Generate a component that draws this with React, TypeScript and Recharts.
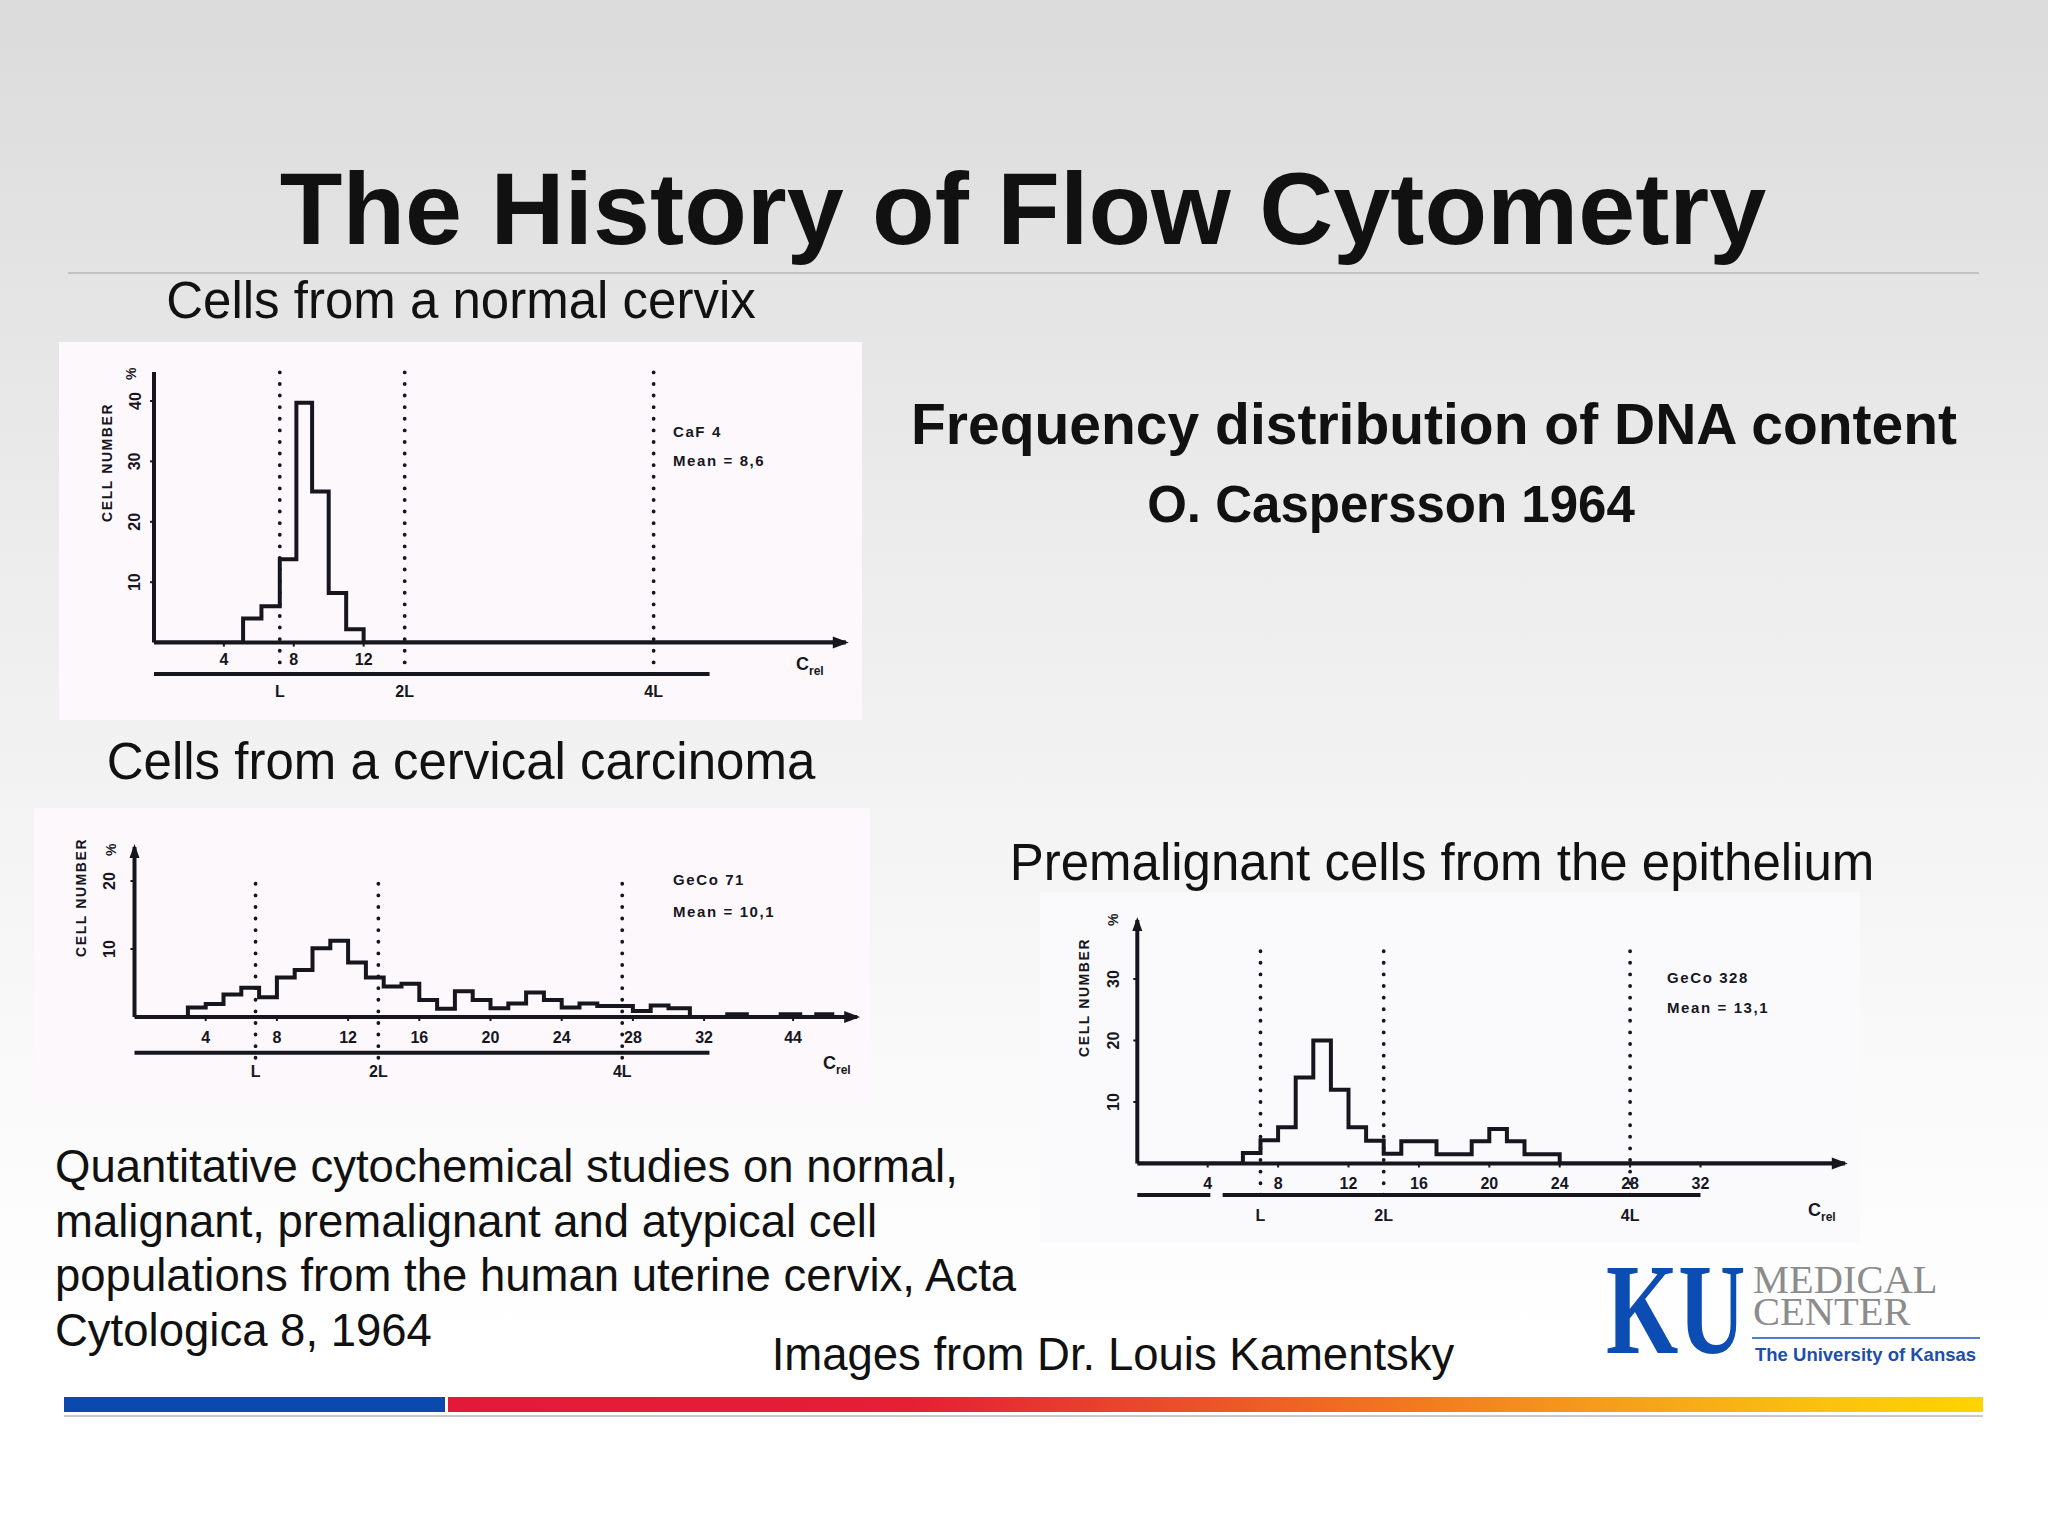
import React from 'react';
import { ComposedChart, Line, XAxis, YAxis, ReferenceLine, ReferenceDot } from 'recharts';

const INK = '#17161f';
const SANS = '"Liberation Sans", Arial, Helvetica, sans-serif';
const SERIF = '"Liberation Serif", "Times New Roman", serif';

// Cells from a normal cervix
const normalBinStart = [5.1, 6.15, 7.2, 8.15, 9.05, 10.0, 11.0, 12.0];
const normalBinHeight = [4, 6, 13.8, 39.7, 25, 8.2, 2.2, 0];
const normalXTicks = [4, 8, 12];
const normalXLabels = ['4', '8', '12'];
const normalYTicks = [10, 20, 30, 40];
const normalPloidy = [7.2, 14.35, 28.6];

// Cells from a cervical carcinoma
const carcBinStart = [
  3, 4, 5, 6, 7, 8, 9, 10, 11, 12, 13, 14, 15, 16, 17, 18, 19, 20, 21, 22, 23, 24, 25, 26, 27, 28, 29, 30,
  31.2, 33.3, 34.4, 36.3, 37.4, 38.3, 39.2,
];
const carcBinHeight = [
  1.4, 1.9, 3.3, 4.3, 2.9, 5.8, 6.9, 10.1, 11.2, 8.0, 5.8, 4.5, 4.9, 2.5, 1.2, 3.8, 2.5, 1.3, 2.0, 3.6, 2.5, 1.4, 2.0,
  1.6, 1.6, 0.9, 1.7, 1.3, 0, 0.4, 0, 0.4, 0, 0.4, 0,
];
const carcXTicks = [4, 8, 12, 16, 20, 24, 28, 32, 37];
const carcXLabels = ['4', '8', '12', '16', '20', '24', '28', '32', '44'];
const carcYTicks = [10, 20];
const carcPloidy = [6.8, 13.7, 27.4];

// Premalignant cells from the epithelium
const preBinStart = [6, 7, 8, 9, 10, 11, 12, 13, 14, 15, 16, 17, 18, 19, 20, 21, 22, 23, 24];
const preBinHeight = [1.7, 3.8, 5.9, 14, 20, 12, 5.9, 3.7, 1.6, 3.6, 3.6, 1.5, 1.5, 3.6, 5.6, 3.6, 1.5, 1.5, 0];
const preXTicks = [4, 8, 12, 16, 20, 24, 28, 32];
const preXLabels = ['4', '8', '12', '16', '20', '24', '28', '32'];
const preYTicks = [10, 20, 30];
const prePloidy = [7.0, 14.0, 28.0];

const ploidyLabels = ['L', '2L', '4L'];

const paragraph = [
  'Quantitative cytochemical studies on normal,',
  'malignant, premalignant and atypical cell',
  'populations from the human uterine cervix, Acta',
  'Cytologica 8, 1964',
];

type Box = { left: number; top: number; width: number; height: number };

type PanelProps = {
  box: Box;
  bg: string;
  originX: number;
  unitX: number;
  baseY: number;
  unitY: number;
  xMax: number;
  yMax: number;
  binStart: number[];
  binHeight: number[];
  xTicks: number[];
  xLabels: string[];
  yTicks: number[];
  ploidy: number[];
  ploidyTop: number;
  ploidyBottom: number;
  ruler: number[][];
  rulerY: number;
  xTickGap: number;
  yTickGap: number;
  labelDy: number;
  yArrow?: boolean;
};

const Y_W = 40;
const X_H = 30;
const STROKE = 4;

function RotTick(props: any) {
  const { x, y, payload } = props;
  return (
    <text
      x={x}
      y={y}
      transform={`rotate(-90 ${x} ${y})`}
      textAnchor="middle"
      dominantBaseline="central"
      fontSize={16}
      fontWeight={700}
      fontFamily={SANS}
      fill={INK}
    >
      {payload.value}
    </text>
  );
}

function HistPanel(p: PanelProps) {
  const plotRight = p.originX + p.xMax * p.unitX;
  const plotTop = p.baseY - p.yMax * p.unitY;
  const margin = {
    left: p.originX - p.box.left - Y_W,
    right: p.box.left + p.box.width - plotRight,
    top: plotTop - p.box.top,
    bottom: p.box.top + p.box.height - p.baseY - X_H,
  };
  const data = [
    { x: 0, y: 0 },
    ...p.binStart.map((x, i) => ({ x, y: p.binHeight[i] })),
    { x: p.xMax, y: 0 },
  ];
  const ax = { stroke: INK, strokeWidth: STROKE };

  return (
    <div style={{ position: 'absolute', left: p.box.left, top: p.box.top, width: p.box.width, height: p.box.height, background: p.bg }}>
      <ComposedChart width={p.box.width} height={p.box.height} data={data} margin={margin}>
        <XAxis
          dataKey="x"
          type="number"
          domain={[0, p.xMax]}
          allowDataOverflow
          ticks={p.xTicks}
          interval={0}
          height={X_H}
          axisLine={ax}
          tickLine={{ stroke: INK, strokeWidth: 2 }}
          tickSize={4}
          tickMargin={p.xTickGap}
          tick={{ fill: INK, fontSize: 16, fontWeight: 700, fontFamily: SANS }}
          tickFormatter={(v: number) => p.xLabels[p.xTicks.indexOf(v)] ?? ''}
        />
        <YAxis
          type="number"
          domain={[0, p.yMax]}
          allowDataOverflow
          ticks={p.yTicks}
          interval={0}
          width={Y_W}
          axisLine={ax}
          tickLine={{ stroke: INK, strokeWidth: 2 }}
          tickSize={4}
          tickMargin={p.yTickGap}
          tick={(t: any) => <RotTick {...t} />}
        />
        {p.ruler.map((r, i) => (
          <ReferenceLine
            key={'r' + i}
            segment={[{ x: r[0], y: p.rulerY }, { x: r[1], y: p.rulerY }]}
            stroke={INK}
            strokeWidth={STROKE}
            ifOverflow="visible"
          />
        ))}
        {p.ploidy.map((v, i) => (
          <ReferenceLine
            key={'p' + i}
            segment={[{ x: v, y: p.ploidyBottom }, { x: v, y: p.ploidyTop }]}
            stroke={INK}
            strokeWidth={3.8}
            strokeDasharray="0.1 11.5"
            strokeLinecap="round"
            ifOverflow="visible"
          />
        ))}
        {p.ploidy.map((v, i) => (
          <ReferenceDot
            key={'pl' + i}
            x={v}
            y={0}
            r={0}
            ifOverflow="visible"
            shape={(s: any) => (
              <text x={s.cx} y={s.cy + p.labelDy} textAnchor="middle" dominantBaseline="central" fontSize={16} fontWeight={700} fontFamily={SANS} fill={INK}>
                {ploidyLabels[i]}
              </text>
            )}
          />
        ))}
        <ReferenceDot
          x={p.xMax}
          y={0}
          r={0}
          ifOverflow="visible"
          shape={(s: any) => <polygon points={`${s.cx + 3},${s.cy} ${s.cx - 13},${s.cy - 6} ${s.cx - 13},${s.cy + 6}`} fill={INK} />}
        />
        {p.yArrow && (
          <ReferenceDot
            x={0}
            y={p.yMax}
            r={0}
            ifOverflow="visible"
            shape={(s: any) => <polygon points={`${s.cx},${s.cy - 3} ${s.cx - 5},${s.cy + 11} ${s.cx + 5},${s.cy + 11}`} fill={INK} />}
          />
        )}
        <Line type="stepAfter" dataKey="y" stroke={INK} strokeWidth={STROKE} dot={false} activeDot={false} isAnimationActive={false} />
      </ComposedChart>
    </div>
  );
}

function Note({ x, y, children, rotate = false, size = 15, anchor = 'start' }: any) {
  return (
    <text
      x={x}
      y={y}
      transform={rotate ? `rotate(-90 ${x} ${y})` : undefined}
      textAnchor={anchor}
      dominantBaseline={rotate ? 'central' : undefined}
      fontSize={size}
      fontWeight={700}
      fontFamily={SANS}
      letterSpacing={1.6}
      fill={INK}
    >
      {children}
    </text>
  );
}

function Crel({ x, y }: { x: number; y: number }) {
  return (
    <text x={x} y={y} fontSize={18} fontWeight={700} fontFamily={SANS} fill={INK}>
      C
      <tspan fontSize={12} dy={5}>
        rel
      </tspan>
    </text>
  );
}

export default function App() {
  return (
    <div
      style={{
        position: 'absolute',
        left: 0,
        top: 0,
        width: 2048,
        height: 1536,
        overflow: 'hidden',
        background: 'linear-gradient(180deg, #dbdbdb 0%, #ececec 35%, #f8f8f8 65%, #ffffff 88%)',
      }}
    >
      <HistPanel
        box={{ left: 59, top: 342, width: 803, height: 378 }}
        bg="#fcf8fb"
        originX={154}
        unitX={17.47}
        baseY={642.6}
        unitY={6.04}
        xMax={39.6}
        yMax={44.8}
        binStart={normalBinStart}
        binHeight={normalBinHeight}
        xTicks={normalXTicks}
        xLabels={normalXLabels}
        yTicks={normalYTicks}
        ploidy={normalPloidy}
        ploidyTop={44.8}
        ploidyBottom={-5.2}
        ruler={[[0, 31.8]]}
        rulerY={-5.2}
        xTickGap={7}
        yTickGap={15}
        labelDy={49}
      />
      <HistPanel
        box={{ left: 34, top: 808, width: 836, height: 296 }}
        bg="#fcf8fb"
        originX={134.5}
        unitX={17.8}
        baseY={1017}
        unitY={6.8}
        xMax={40.6}
        yMax={25}
        binStart={carcBinStart}
        binHeight={carcBinHeight}
        xTicks={carcXTicks}
        xLabels={carcXLabels}
        yTicks={carcYTicks}
        ploidy={carcPloidy}
        ploidyTop={20.3}
        ploidyBottom={-6}
        ruler={[[0, 32.3]]}
        rulerY={-5.25}
        xTickGap={11}
        yTickGap={21}
        labelDy={54}
        yArrow
      />
      <HistPanel
        box={{ left: 1040, top: 892, width: 820, height: 351 }}
        bg="#fafafc"
        originX={1137.3}
        unitX={17.6}
        baseY={1163.5}
        unitY={6.15}
        xMax={40.2}
        yMax={39.6}
        binStart={preBinStart}
        binHeight={preBinHeight}
        xTicks={preXTicks}
        xLabels={preXLabels}
        yTicks={preYTicks}
        ploidy={prePloidy}
        ploidyTop={35.2}
        ploidyBottom={-5.1}
        ruler={[[0, 4.15], [4.85, 32]]}
        rulerY={-5.12}
        xTickGap={10}
        yTickGap={20}
        labelDy={51.5}
        yArrow
      />

      <svg width={2048} height={1536} style={{ position: 'absolute', left: 0, top: 0, pointerEvents: 'none' }}>
        <defs>
          <linearGradient id="band" x1="0" x2="1" y1="0" y2="0">
            <stop offset="0" stopColor="#e3193a" />
            <stop offset="0.3" stopColor="#e41f36" />
            <stop offset="0.45" stopColor="#e9482b" />
            <stop offset="0.58" stopColor="#f06b21" />
            <stop offset="0.75" stopColor="#f59c1d" />
            <stop offset="0.9" stopColor="#fbc20e" />
            <stop offset="1" stopColor="#ffd400" />
          </linearGradient>
        </defs>

        <text x={1023} y={244} textAnchor="middle" fontSize={102.5} fontWeight={700} fontFamily={SANS} fill="#111">
          The History of Flow Cytometry
        </text>
        <line x1={68} x2={1979} y1={273} y2={273} stroke="#c2c2c2" strokeWidth={2} />

        <text x={461} y={318} textAnchor="middle" fontSize={51} fontFamily={SANS} fill="#111">
          Cells from a normal cervix
        </text>
        <text x={1434} y={444} textAnchor="middle" fontSize={57} fontWeight={700} fontFamily={SANS} fill="#111">
          Frequency distribution of DNA content
        </text>
        <text x={1391} y={522} textAnchor="middle" fontSize={51} fontWeight={700} fontFamily={SANS} fill="#111">
          O. Caspersson 1964
        </text>
        <text x={461} y={779} textAnchor="middle" fontSize={51} fontFamily={SANS} fill="#111">
          Cells from a cervical carcinoma
        </text>
        <text x={1442} y={880} textAnchor="middle" fontSize={51} fontFamily={SANS} fill="#111">
          Premalignant cells from the epithelium
        </text>
        {paragraph.map((line, i) => (
          <text key={i} x={55} y={1182 + i * 54.5} fontSize={45.5} fontFamily={SANS} fill="#111">
            {line}
          </text>
        ))}
        <text x={1113} y={1370} textAnchor="middle" fontSize={45.5} fontFamily={SANS} fill="#111">
          Images from Dr. Louis Kamentsky
        </text>

        {/* chart annotations */}
        <Note x={107} y={522} rotate size={14}>CELL NUMBER</Note>
        <Note x={131} y={380} rotate size={14}>%</Note>
        <Note x={673} y={437} size={15}>CaF 4</Note>
        <Note x={673} y={466} size={15}>Mean = 8,6</Note>
        <Crel x={796} y={670} />

        <Note x={81} y={957} rotate size={14}>CELL NUMBER</Note>
        <Note x={111} y={856} rotate size={14}>%</Note>
        <Note x={673} y={885} size={15}>GeCo 71</Note>
        <Note x={673} y={917} size={15}>Mean = 10,1</Note>
        <Crel x={823} y={1069} />

        <Note x={1084} y={1057} rotate size={14}>CELL NUMBER</Note>
        <Note x={1113} y={926} rotate size={14}>%</Note>
        <Note x={1667} y={983} size={15}>GeCo 328</Note>
        <Note x={1667} y={1013} size={15}>Mean = 13,1</Note>
        <Crel x={1808} y={1216} />

        {/* logo */}
        <text x={0} y={0} transform="translate(1606 1353) scale(1 1.4)" fontSize={93} fontWeight={700} fontFamily={SERIF} fill="#0b4db3">
          KU
        </text>
        <text fontSize={40.5} fontFamily={SERIF} fill="#8c8c8c">
          <tspan x={1753} y={1293}>
            MEDICAL
          </tspan>
          <tspan x={1753} y={1325}>
            CENTER
          </tspan>
        </text>
        <line x1={1752} x2={1980} y1={1338} y2={1338} stroke="#4f7fcc" strokeWidth={2} />
        <text x={1755} y={1361} fontSize={18.5} fontWeight={700} fontFamily={SANS} fill="#1d4fa8">
          The University of Kansas
        </text>

        {/* footer band */}
        <rect x={64} y={1397} width={381} height={15} fill="#0a49ad" />
        <rect x={448} y={1397} width={1535} height={15} fill="url(#band)" />
        <line x1={64} x2={1983} y1={1416} y2={1416} stroke="#c9c9c9" strokeWidth={2} />
      </svg>
    </div>
  );
}
